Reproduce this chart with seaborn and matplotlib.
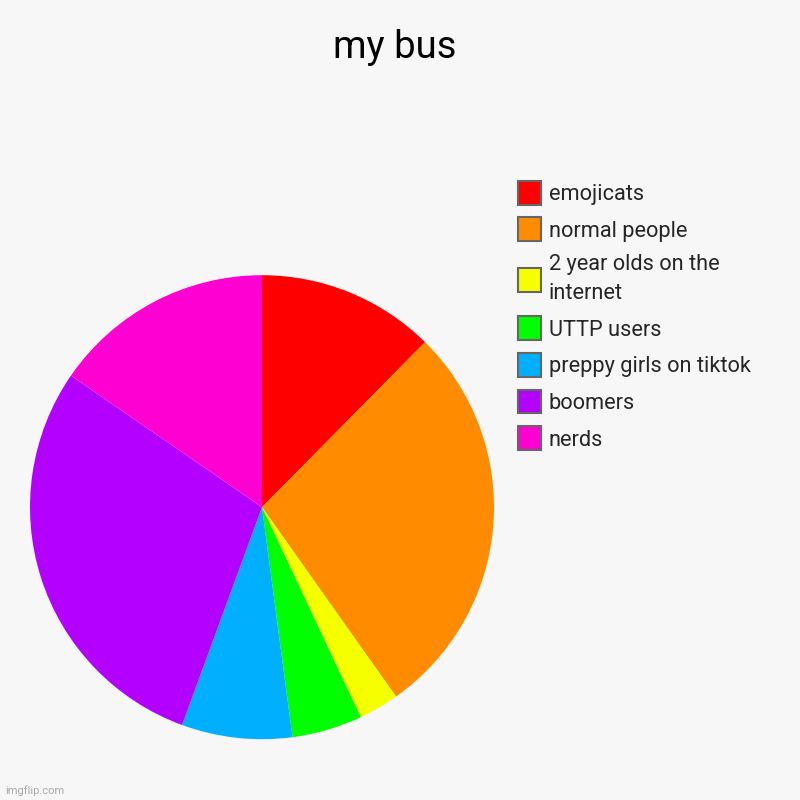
import matplotlib
matplotlib.use("Agg")
import matplotlib.pyplot as plt
import matplotlib.patches as mpatches
import seaborn as sns

# Data (share of the pie, %)
labels = ["emojicats", "normal people", "2 year olds on the\ninternet", "UTTP users",
          "preppy girls on tiktok", "boomers", "nerds"]
values = [12.4, 27.8, 2.8, 4.9, 7.7, 29.0, 15.4]
colors = ["#ff0000", "#ff8c00", "#f5ff00", "#00ff00", "#00b0ff", "#b400ff", "#ff00d2"]
title = "my bus"

BG = "#f7f7f7"

sns.set_theme(style="white")
plt.rcParams["font.family"] = ["Roboto", "DejaVu Sans"]

palette = sns.color_palette(colors)

fig = plt.figure(figsize=(8, 8), dpi=100, facecolor=BG)
ax = fig.add_axes([0.0375, 0.076, 0.58, 0.58])
ax.set_facecolor(BG)
ax.pie(values, colors=palette, startangle=90, counterclock=False,
       radius=1.0, wedgeprops=dict(linewidth=0))
ax.set_xlim(-1, 1)
ax.set_ylim(-1, 1)
ax.set_aspect("equal")
ax.axis("off")

fig.text(0.494, 0.94, title, ha="center", va="center", fontsize=27.5, color="black")

handles = [mpatches.Patch(facecolor=c, edgecolor="#666666", linewidth=1.5) for c in palette]
leg = fig.legend(handles, labels, loc="upper left", bbox_to_anchor=(0.6475, 0.774),
                 frameon=False, fontsize=15.7, handlelength=1.05, handleheight=1.3,
                 handletextpad=0.37, labelspacing=0.57, borderpad=0, borderaxespad=0)
for t in leg.get_texts():
    t.set_linespacing(1.5)

fig.text(0.006, 0.012, "imgflip.com", fontsize=8, color="#aaaaaa", ha="left", va="center")

fig.savefig("out.png", dpi=100, facecolor=BG)
